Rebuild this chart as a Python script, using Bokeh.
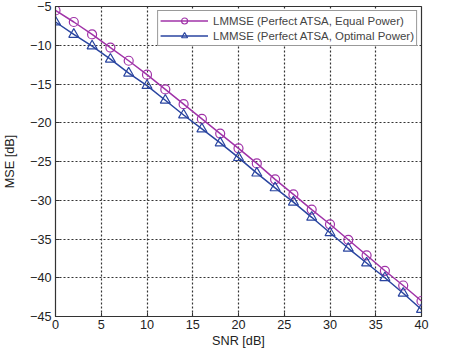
from bokeh.plotting import figure
from bokeh.embed import file_html
from bokeh.resources import INLINE
from bokeh.models import FixedTicker, Range1d

snr = [0, 2, 4, 6, 8, 10, 12, 14, 16, 18, 20, 22, 24, 26, 28, 30, 32, 34, 36, 38, 40]
mse_equal = [-5.5, -7.0, -8.6, -10.3, -12.0, -13.8, -15.7, -17.6, -19.5, -21.4, -23.3,
             -25.25, -27.3, -29.25, -31.2, -33.1, -35.1, -37.1, -39.1, -41.0, -43.0]
mse_optimal = [-7.0, -8.6, -10.1, -11.8, -13.6, -15.2, -17.1, -19.0, -20.8, -22.6, -24.5,
               -26.5, -28.4, -30.25, -32.2, -34.2, -36.2, -38.1, -40.0, -42.0, -44.1]
x_ticks = [0, 5, 10, 15, 20, 25, 30, 35, 40]
y_ticks = [-45, -40, -35, -30, -25, -20, -15, -10, -5]
label_equal = "LMMSE (Perfect ATSA, Equal Power)"
label_optimal = "LMMSE (Perfect ATSA, Optimal Power)"

purple = "#A033A8"
blue = "#2A45A0"
font = "Liberation Sans"

p = figure(width=452, height=350, output_backend="svg", toolbar_location=None,
           x_range=Range1d(0, 40), y_range=Range1d(-45, -5),
           min_border_left=54, min_border_right=31, min_border_top=6, min_border_bottom=28,
           x_axis_label="SNR [dB]", y_axis_label="MSE [dB]")

p.line(snr, mse_equal, color=purple, line_width=1.5, legend_label=label_equal)
p.scatter(snr, mse_equal, marker="circle", size=9, line_color=purple, fill_color=None,
          line_width=1.2, legend_label=label_equal)
p.line(snr, mse_optimal, color=blue, line_width=1.5, legend_label=label_optimal)
p.scatter(snr, mse_optimal, marker="triangle", size=10, line_color=blue, fill_color=None,
          line_width=1.2, legend_label=label_optimal)

p.xaxis.ticker = FixedTicker(ticks=x_ticks)
p.yaxis.ticker = FixedTicker(ticks=y_ticks)
for ax in (p.xaxis, p.yaxis):
    ax.major_label_text_font = font
    ax.major_label_text_font_size = "9.5pt"
    ax.major_label_text_color = "#222222"
    ax.axis_label_text_font = font
    ax.axis_label_text_font_size = "9.5pt"
    ax.axis_label_text_font_style = "normal"
    ax.axis_label_text_color = "#222222"
    ax.major_tick_in = 4
    ax.major_tick_out = 0
    ax.minor_tick_line_color = None
    ax.axis_line_color = "#333333"
    ax.major_tick_line_color = "#333333"
p.xaxis.axis_label_standoff = 2
p.yaxis.axis_label_standoff = 10
p.xaxis.major_label_standoff = 3
p.yaxis.major_label_standoff = 4

p.grid.grid_line_color = "#333333"
p.grid.grid_line_dash = "2 2"
p.grid.grid_line_width = 1.2
p.outline_line_color = "#333333"
p.outline_line_width = 1.2

p.legend.location = "top_right"
p.legend.margin = 4
p.legend.padding = 2
p.legend.spacing = 0
p.legend.label_text_font = font
p.legend.label_text_font_size = "8.6pt"
p.legend.label_height = 15
p.legend.glyph_height = 15
p.legend.glyph_width = 48
p.legend.border_line_color = "#333333"
p.legend.border_line_width = 1.2
p.legend.background_fill_alpha = 1.0

open("out.html", "w").write(file_html(p, INLINE))
